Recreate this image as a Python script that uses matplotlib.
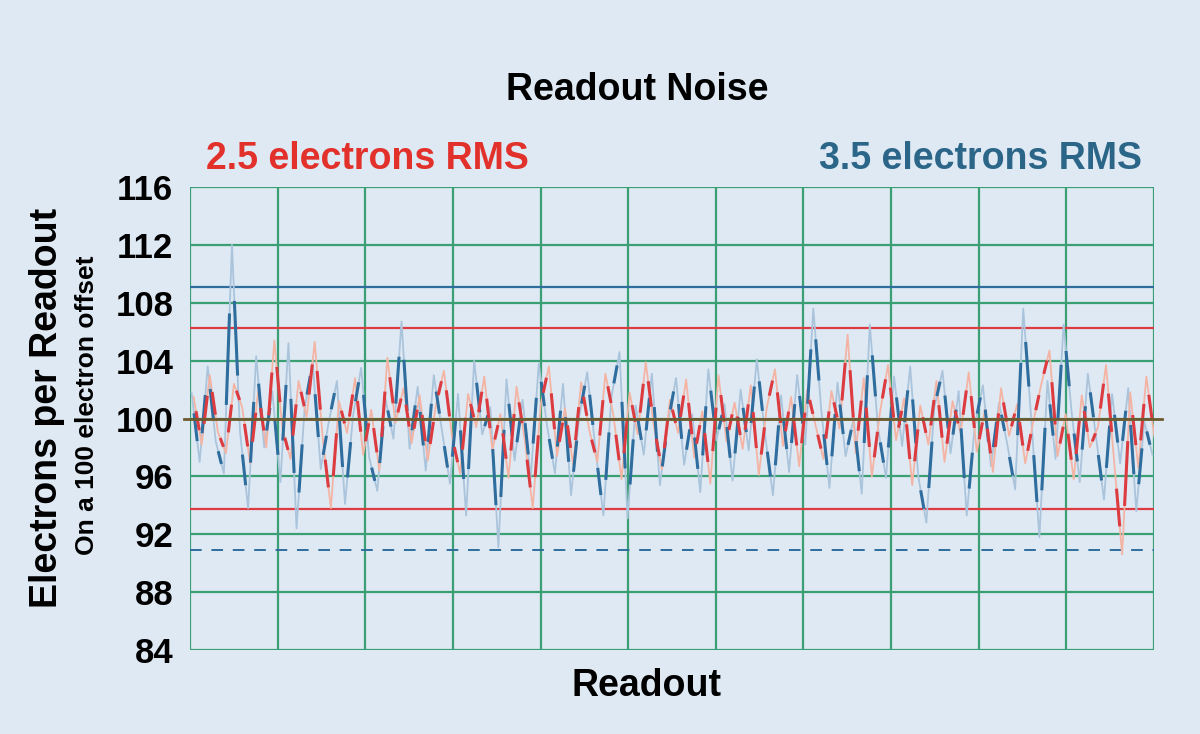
import matplotlib.pyplot as plt
import numpy as np
from matplotlib.collections import LineCollection

plt.rcParams['font.family'] = ['Liberation Sans', 'DejaVu Sans']

# Readings taken off the chart (electrons per readout, 100 e- offset)
red_values = [
    101.5, 98.2, 103.0, 99.1, 97.6, 102.4, 100.8, 96.9, 101.9, 98.0,
    105.4, 99.3, 97.2, 102.6, 100.1, 105.3, 98.6, 93.8, 101.2, 99.0,
    102.8, 97.5, 100.6, 96.4, 104.2, 99.7, 102.1, 98.3, 101.6, 97.1,
    100.9, 103.3, 98.8, 96.2, 101.7, 99.4, 102.9, 97.8, 100.3, 95.9,
    102.2, 98.6, 93.8, 101.0, 103.6, 97.4, 100.7, 96.8, 102.5, 99.2,
    97.0, 103.1, 100.2, 95.8, 101.8, 98.9, 103.9, 99.5, 96.5, 101.3,
    99.0, 102.7, 97.3, 100.5, 95.5, 103.0, 98.4, 101.1, 97.9, 102.3,
    96.1, 100.8, 103.4, 98.1, 101.5, 96.7, 102.0, 99.6, 97.2, 101.9,
    99.3, 105.8, 97.6, 102.8, 96.0, 100.4, 103.7, 98.5, 101.4, 95.4,
    100.9, 98.2, 102.6, 97.0, 101.2, 99.0, 103.2, 97.7, 100.6, 96.3,
    102.1, 98.8, 101.0, 96.9, 99.8, 102.4, 104.7, 97.4, 100.3, 95.8,
    101.6, 98.0, 99.4, 103.7, 97.1, 90.6, 101.8, 96.6, 102.9, 98.7,
]
blue_values = [
    101.8, 97.0, 103.6, 98.4, 96.2, 112.0, 99.1, 93.8, 104.3, 98.0,
    101.9, 95.6, 105.2, 92.4, 100.7, 103.9, 96.5, 99.8, 102.6, 94.1,
    100.2, 103.5, 97.3, 95.0, 101.4, 98.6, 106.7, 97.9, 102.2, 96.4,
    103.0, 99.2, 95.5, 101.7, 93.3, 104.0, 98.9, 100.8, 91.1, 102.7,
    97.1, 101.3, 95.9, 103.8, 99.6, 96.2, 102.4, 94.7, 100.1, 103.2,
    98.0, 93.3, 101.5, 104.6, 93.1, 100.9, 97.5, 103.1, 95.4, 99.7,
    102.8, 96.8, 100.3, 94.9, 103.4, 98.5, 101.0, 95.7, 102.0, 97.8,
    104.1, 99.0, 94.7, 101.6, 96.3, 103.0, 98.2, 107.6, 100.5, 95.2,
    102.5, 97.4, 100.0, 94.8, 106.5, 99.4, 95.9, 102.9, 98.1, 103.6,
    96.0, 92.8, 100.8, 103.3, 97.6, 101.9, 93.3, 99.5, 102.3, 96.7,
    101.1, 98.3, 95.1, 107.6, 99.9, 91.8, 102.6, 97.2, 106.5, 100.4,
    95.6, 103.1, 98.8, 94.4, 101.7, 96.9, 102.1, 93.6, 99.8, 97.5,
]
red_rms = 2.5
blue_rms = 3.5
y_ticks = [84, 88, 92, 96, 100, 104, 108, 112, 116]

bg = "#dfe9f4"
grid_green = "#3a9f72"
red_dark, red_light = "#dc3b3f", "#f4b4a4"
blue_dark, blue_light = "#2e6d9e", "#aac4dc"

fig = plt.figure(figsize=(12, 7.34), dpi=100, facecolor=bg)
ax = fig.add_axes([0.1583, 0.1144, 0.8034, 0.6308])
ax.set_facecolor(bg)

n = len(red_values)
x_red = np.arange(n) + 0.25
x_blue = np.arange(n)


def noise_trace(x, vals, light, dark):
    vals = np.asarray(vals)
    ax.plot(x, vals, color=light, lw=1.3, zorder=3)
    segs = []
    for i in range(1, len(vals)):
        x0, x1 = x[i - 1], x[i]
        y0, y1 = vals[i - 1], vals[i]
        segs.append([(x0 + 0.3 * (x1 - x0), y0 + 0.3 * (y1 - y0)),
                     (x0 + 0.7 * (x1 - x0), y0 + 0.7 * (y1 - y0))])
    ax.add_collection(LineCollection(segs, colors=dark, linewidths=2.2, zorder=4))


noise_trace(x_blue, blue_values, blue_light, blue_dark)
noise_trace(x_red, red_values, red_light, red_dark)

# grid
ax.set_xlim(-0.2, n - 0.8)
ax.set_ylim(84, 116)
for xv in np.linspace(-0.2, n - 0.8, 12):
    ax.axvline(xv, color=grid_green, lw=1.6, zorder=2)
for yv in y_ticks:
    ax.axhline(yv, color=grid_green, lw=1.6, zorder=2)

# RMS reference lines
ax.axhline(100 + 2.5 * red_rms, color=red_dark, lw=1.6, zorder=2.5)
ax.axhline(100 - 2.5 * red_rms, color=red_dark, lw=1.6, zorder=2.5)
ax.axhline(100 + 2.6 * blue_rms, color=blue_dark, lw=1.6, zorder=2.5)
ax.axhline(100 - 2.6 * blue_rms, color=blue_dark, lw=1.4, ls=(0, (6, 5)), zorder=2.5)
ax.plot([-0.006, 1.008], [100, 100], transform=ax.get_yaxis_transform(),
        color="#6b5a2e", lw=2.0, clip_on=False, zorder=5)

for s in ax.spines.values():
    s.set_visible(False)
ax.set_xticks([])
ax.set_yticks(y_ticks)
ax.set_yticklabels([str(t) for t in y_ticks], fontsize=25, fontweight="bold")
ax.tick_params(axis="y", length=0, pad=12)

fig.text(0.531, 0.877, "Readout Noise", ha="center", va="center",
         fontsize=27, fontweight="bold")
fig.text(0.172, 0.783, "2.5 electrons RMS", ha="left", va="center",
         fontsize=27, fontweight="bold", color="#e2302b")
fig.text(0.952, 0.783, "3.5 electrons RMS", ha="right", va="center",
         fontsize=27, fontweight="bold", color="#2b6688")
fig.text(0.539, 0.065, "Readout", ha="center", va="center",
         fontsize=27, fontweight="bold")
fig.text(0.039, 0.444, "Electrons per Readout", ha="center", va="center",
         rotation=90, fontsize=27, fontweight="bold")
fig.text(0.0725, 0.448, "On a 100 electron offset", ha="center", va="center",
         rotation=90, fontsize=19, fontweight="bold")

fig.savefig("out.png", dpi=100, facecolor=bg)
